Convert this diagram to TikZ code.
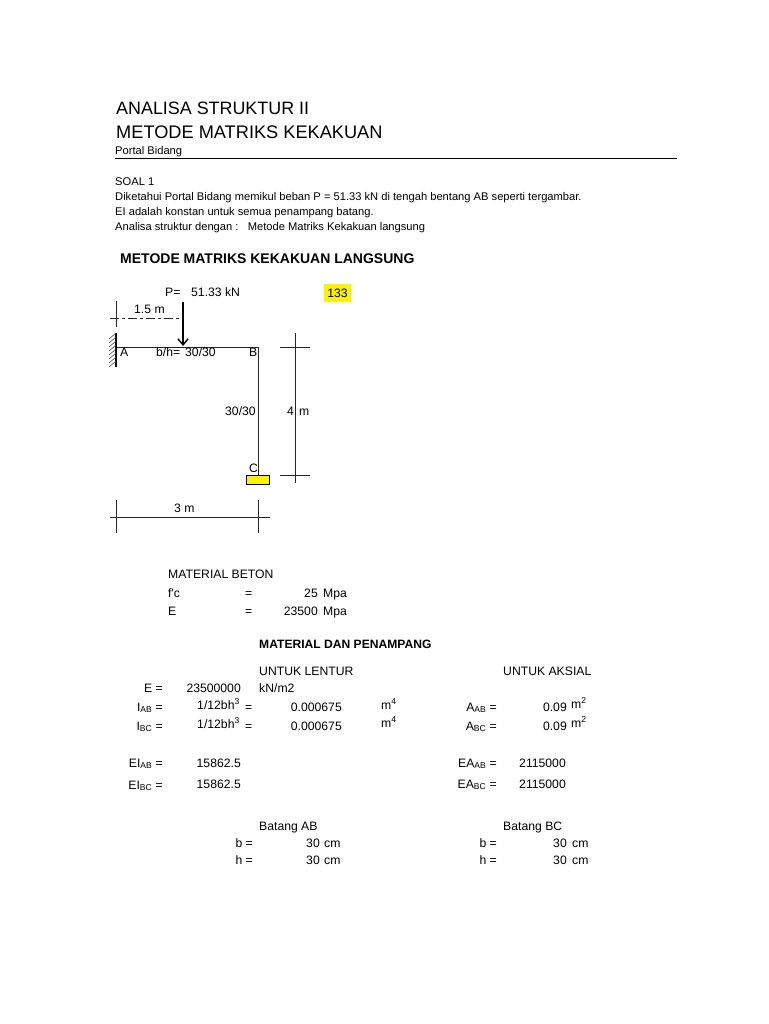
\documentclass[tikz,border=0pt]{standalone}
\usepackage{fontspec}
\usetikzlibrary{arrows.meta}
\setmainfont{Liberation Sans}
\newcommand{\fs}[1]{\fontsize{#1}{#1}\selectfont}
\tikzset{
  lft/.style={anchor=base west,inner sep=0pt,font=\fs{12.2}},
  rgt/.style={anchor=base east,inner sep=0pt,font=\fs{12.2}},
  ttl/.style={anchor=base west,inner sep=0pt,font=\fs{18.2}},
  sml/.style={anchor=base west,inner sep=0pt,font=\fs{11.15}},
  hdg/.style={anchor=base west,inner sep=0pt,font=\fs{12.1}\bfseries},
  frm/.style={line width=1pt,black!85},
  dim/.style={line width=0.8pt,black!85}
}
\begin{document}
\begin{tikzpicture}[x=1pt,y=-1pt]
\useasboundingbox (0,0) rectangle (768,1024);
% heading
\node (title1) at (116,114.5) [ttl,font=\fs{17.9}] {ANALISA STRUKTUR II};
\node (title2) at (116,139) [ttl] {METODE MATRIKS KEKAKUAN};
\node (sub) at (115,155) [sml] {Portal Bidang};
\coordinate (ruleL) at (115,159);
\coordinate (ruleR) at (677,159);
\draw[line width=1pt] (ruleL)--(ruleR);
\node (soal) at (115,186) [sml] {SOAL 1};
\node (soal1) at (115,201) [sml] {Diketahui Portal Bidang memikul beban P = 51.33 kN di tengah bentang AB seperti tergambar.};
\node (soal2) at (115,216) [sml] {EI adalah konstan untuk semua penampang batang.};
\node (soal3) at (115,231) [sml] {Analisa struktur dengan :\ \ \ Metode Matriks Kekakuan langsung};
\node (metode) at (120,263) [hdg,font=\fs{14}\bfseries] {METODE MATRIKS KEKAKUAN LANGSUNG};
% portal
\coordinate (A) at (116,347);
\coordinate (B) at (258.5,347);
\coordinate (C) at (258.5,475);
\draw[frm] (A)--(B)--(C);
\node (base) at (258,479.5) [draw=black,fill=yellow,minimum width=23pt,minimum height=9pt,inner sep=0pt] {};
\coordinate (wallT) at (116,333);
\coordinate (wallB) at (116,367);
\draw[line width=1.2pt] (wallT)--(wallB);
\foreach \y in {339,343,...,367}
  \draw[line width=0.6pt,black!70] (116,\y-6)--(109,\y);
% load
\coordinate (loadT) at (183,302);
\coordinate (loadB) at (183,346);
\draw[line width=1.4pt,-{Straight Barb[length=6pt,width=10pt]}] (loadT)--(loadB);
% dimensions
\coordinate (d1a) at (110,318);
\coordinate (d1b) at (183,318);
\draw[dim,dash pattern=on 9pt off 3pt on 3pt off 3pt] (d1a)--(d1b);
\coordinate (d1t) at (116.5,301);
\coordinate (d1u) at (116.5,327);
\draw[dim] (d1t)--(d1u);
\coordinate (d2t) at (295,333);
\coordinate (d2b) at (295,483);
\draw[dim] (d2t)--(d2b);
\coordinate (d2a) at (280,347);
\coordinate (d2c) at (310,347);
\draw[dim] (d2a)--(d2c);
\coordinate (d2d) at (280,475);
\coordinate (d2e) at (310,475);
\draw[dim] (d2d)--(d2e);
\coordinate (d3l) at (110,517);
\coordinate (d3r) at (270,517);
\draw[dim] (d3l)--(d3r);
\coordinate (d3a) at (116.5,500);
\coordinate (d3b) at (116.5,533);
\draw[dim] (d3a)--(d3b);
\coordinate (d3c) at (258.5,500);
\coordinate (d3d) at (258.5,533);
\draw[dim] (d3c)--(d3d);
% labels of the portal
\node (pl) at (165,296) [lft] {P=};
\node (pv) at (191,296) [lft] {51.33 kN};
\node (mark) at (337.5,293) [fill=yellow,minimum width=27pt,minimum height=18pt,inner sep=0pt,font=\fs{12.2}] {133};
\node (len1) at (134,313) [lft] {1.5 m};
\node (lA) at (120,356) [lft] {A};
\node (lbh) at (156,356) [lft] {b/h=};
\node (lbhv) at (185,356) [lft] {30/30};
\node (lB) at (249,356) [lft] {B};
\node (lbc) at (225,415) [lft] {30/30};
\node (l4) at (287,415) [lft] {4};
\node (l4m) at (299,415) [lft] {m};
\node (lC) at (249,472) [lft] {C};
\node (l3) at (174,512) [lft] {3 m};
% material
\node (mat) at (168,578) [lft] {MATERIAL BETON};
\node (fcl) at (168,597) [lft] {f\textquotesingle c};
\node (fce) at (245,597) [lft] {=};
\node (fcv) at (318,597) [rgt] {25};
\node (fcu) at (323,597) [lft] {Mpa};
\node (el) at (168,615) [lft] {E};
\node (ee) at (245,615) [lft] {=};
\node (ev) at (318,615) [rgt] {23500};
\node (eu) at (323,615) [lft] {Mpa};
\node (matp) at (259,648) [hdg] {MATERIAL DAN PENAMPANG};
% untuk lentur
\node (lent) at (259,675) [lft] {UNTUK LENTUR};
\node (e2l) at (163,692) [rgt] {E =};
\node (e2v) at (241,692) [rgt] {23500000};
\node (e2u) at (259,692) [lft] {kN/m2};
\node (iab) at (163,711) [rgt] {I\textsubscript{AB} =};
\node (iabf) at (240,709) [rgt] {1/12bh\textsuperscript{3}};
\node (iabe) at (245,711) [lft] {=};
\node (iabv) at (342,711) [rgt] {0.000675};
\node (iabu) at (381,709) [lft] {m\textsuperscript{4}};
\node (ibc) at (163,730) [rgt] {I\textsubscript{BC} =};
\node (ibcf) at (240,728) [rgt] {1/12bh\textsuperscript{3}};
\node (ibce) at (245,730) [lft] {=};
\node (ibcv) at (342,730) [rgt] {0.000675};
\node (ibcu) at (381,727) [lft] {m\textsuperscript{4}};
\node (eiab) at (163,767) [rgt] {EI\textsubscript{AB} =};
\node (eiabv) at (241,767) [rgt] {15862.5};
\node (eibc) at (163,789) [rgt] {EI\textsubscript{BC} =};
\node (eibcv) at (241,788) [rgt] {15862.5};
% untuk aksial
\node (aks) at (503,675) [lft] {UNTUK AKSIAL};
\node (aab) at (497,711) [rgt] {A\textsubscript{AB} =};
\node (aabv) at (567,711) [rgt] {0.09};
\node (aabu) at (571,708) [lft] {m\textsuperscript{2}};
\node (abc) at (497,730) [rgt] {A\textsubscript{BC} =};
\node (abcv) at (567,730) [rgt] {0.09};
\node (abcu) at (571,727) [lft] {m\textsuperscript{2}};
\node (eaab) at (497,767) [rgt] {EA\textsubscript{AB} =};
\node (eaabv) at (566,767) [rgt] {2115000};
\node (eabc) at (497,788) [rgt] {EA\textsubscript{BC} =};
\node (eabcv) at (566,788) [rgt] {2115000};
% batang
\node (bab) at (259,830) [lft] {Batang AB};
\node (bab1) at (253,847) [rgt] {b =};
\node (bab2) at (320,847) [rgt] {30};
\node (bab3) at (324,847) [lft] {cm};
\node (bab4) at (253,864) [rgt] {h =};
\node (bab5) at (320,864) [rgt] {30};
\node (bab6) at (324,864) [lft] {cm};
\node (bbc) at (503,830) [lft] {Batang BC};
\node (bbc1) at (497,847) [rgt] {b =};
\node (bbc2) at (567,847) [rgt] {30};
\node (bbc3) at (572,847) [lft] {cm};
\node (bbc4) at (497,864) [rgt] {h =};
\node (bbc5) at (567,864) [rgt] {30};
\node (bbc6) at (572,864) [lft] {cm};
\end{tikzpicture}
\end{document}
